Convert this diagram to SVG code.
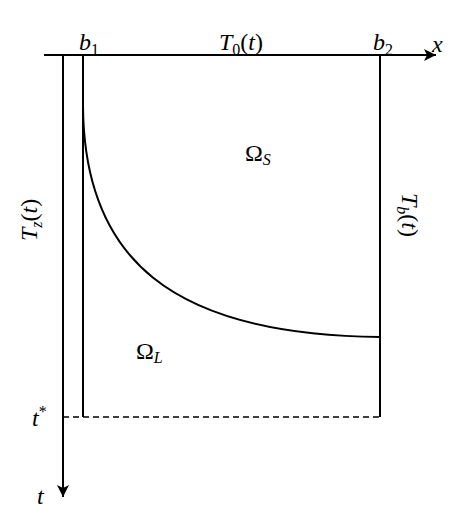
<svg xmlns="http://www.w3.org/2000/svg" width="474" height="515" viewBox="0 0 474 515">
<style>
.ln{stroke:#000;stroke-width:2;fill:none}
.t{font-family:"Liberation Serif","DejaVu Serif",serif;font-size:24px;fill:#000}
.i{font-style:italic}
.s{font-size:16px}
</style>
<defs>
<marker id="ah" markerWidth="14" markerHeight="12" refX="12" refY="6" orient="auto" markerUnits="userSpaceOnUse">
<path d="M0,0 L12,6 L0,12 L3,6 z" fill="#000"/>
</marker>
</defs>
<rect width="474" height="515" fill="#fff"/>
<g id="connectors">
<line class="ln" x1="44" y1="55" x2="436" y2="55" marker-end="url(#ah)"/>
<line class="ln" x1="63" y1="55" x2="63" y2="497" marker-end="url(#ah)"/>
<line class="ln" x1="83" y1="55" x2="83" y2="417"/>
<line class="ln" x1="380" y1="55" x2="380" y2="417"/>
<line class="ln" x1="63" y1="417" x2="380" y2="417" stroke-dasharray="6,4" style="stroke-width:1.5"/>
<path class="ln" d="M83,106 C84,258 170,335 380,337"/>
</g>
<g id="labels">
<text class="t i" x="79" y="50">b<tspan class="s" dy="5" font-style="normal">1</tspan></text>
<text class="t i" x="373" y="50">b<tspan class="s" dy="5" font-style="normal">2</tspan></text>
<text class="t" x="219" y="50"><tspan class="i">T</tspan><tspan class="s" dy="5">0</tspan><tspan dy="-5">(</tspan><tspan class="i">t</tspan>)</text>
<text class="t i" x="432" y="52">x</text>
<text class="t" x="245" y="161">Ω<tspan class="s i" dy="4">S</tspan></text>
<text class="t" x="136" y="359">Ω<tspan class="s i" dy="4">L</tspan></text>
<text class="t" transform="translate(37,241) rotate(-90)"><tspan class="i">T</tspan><tspan class="s i" dy="5">z</tspan><tspan dy="-5">(</tspan><tspan class="i">t</tspan>)</text>
<text class="t" transform="translate(402,193) rotate(90)"><tspan class="i">T</tspan><tspan class="s i" dy="5">b</tspan><tspan dy="-5">(</tspan><tspan class="i">t</tspan>)</text>
<text class="t i" x="32" y="426">t<tspan class="s" dy="-9" font-style="normal">*</tspan></text>
<text class="t i" x="37" y="504">t</text>
</g>
</svg>
